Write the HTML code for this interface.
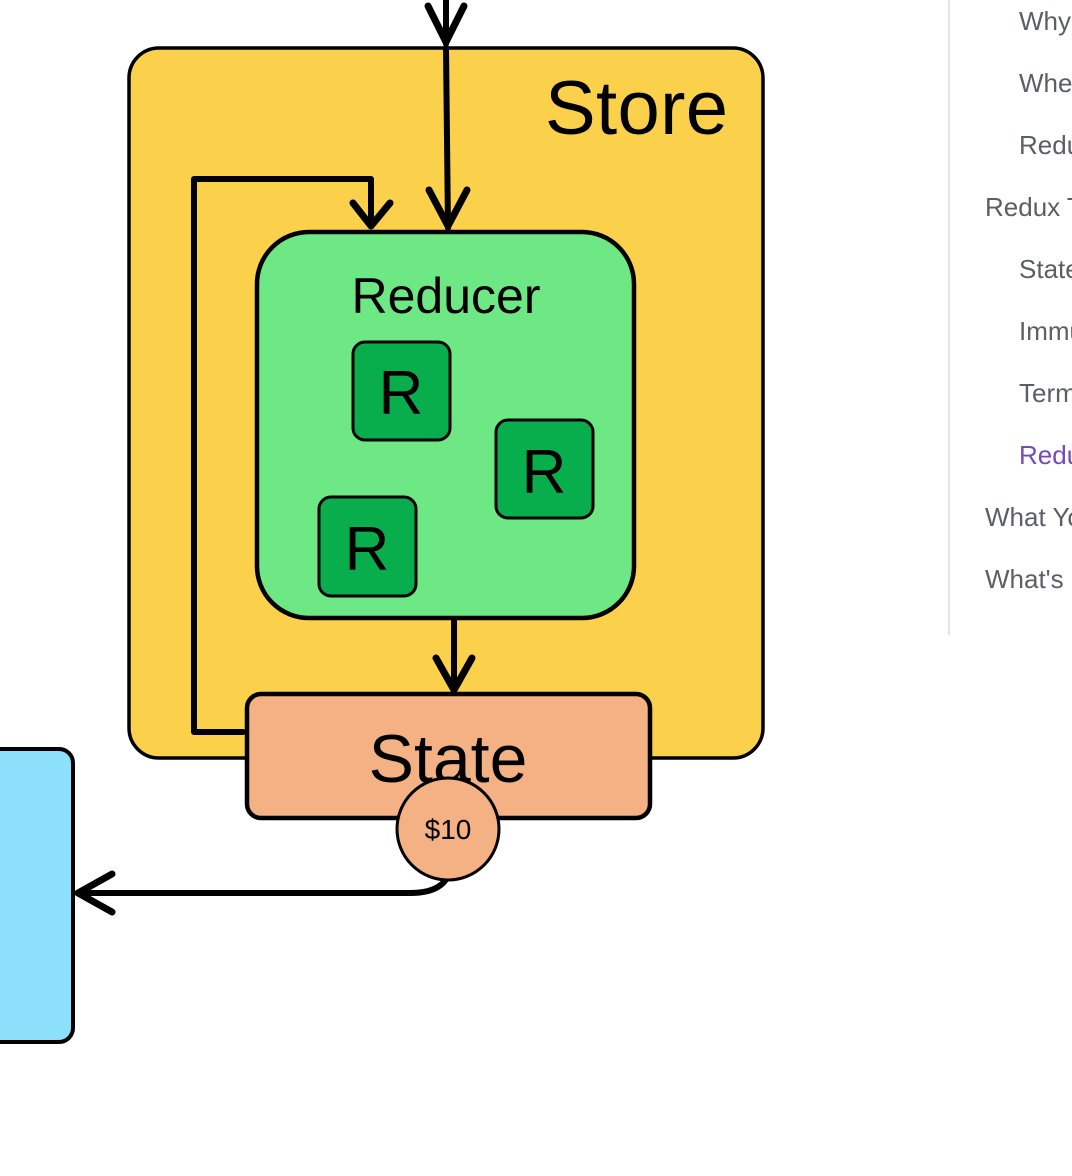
<!DOCTYPE html>
<html><head><meta charset="utf-8"><style>
html,body{margin:0;padding:0;width:1072px;height:1176px;overflow:hidden;background:#fff;}
svg{position:absolute;left:0;top:0;}
.side{position:absolute;left:948px;top:0;width:124px;height:635px;border-left:2px solid #e3e3e3;overflow:hidden;}
.side div{position:absolute;white-space:nowrap;font-family:"Liberation Sans",sans-serif;font-size:26px;color:#5a5f66;}
</style></head><body>
<svg width="1072" height="1176" viewBox="0 0 1072 1176">
<rect x="129" y="48" width="634" height="710" rx="30" fill="#fbd04b" stroke="#000" stroke-width="3.5"/>
<text x="545" y="134" font-family="Liberation Sans,sans-serif" font-size="76" textLength="183" fill="#000">Store</text>
<g fill="none" stroke="#000" stroke-width="6" stroke-linecap="round" stroke-linejoin="round">
<line x1="446" y1="0" x2="446" y2="44"/>
<line x1="446" y1="48" x2="448" y2="228"/>
<polyline points="243,732 194,732 194,179 371,179 371,226"/>
<line x1="454" y1="619" x2="454" y2="690"/>
<path d="M448,876 Q440,893 410,893 L78,893"/>
</g>
<g fill="none" stroke="#000" stroke-width="7" stroke-linecap="round" stroke-linejoin="round">
<polyline points="428,6 446,42 464,6"/>
<polyline points="429,190 448,226 467,190"/>
<polyline points="353,203 371,226 390,203"/>
<polyline points="436,658 454,690 472,658"/>
<polyline points="112,874 78,893 112,912"/>
</g>
<rect x="257" y="232" width="377" height="386" rx="52" fill="#6ee884" stroke="#000" stroke-width="4.5"/>
<text x="446" y="313" text-anchor="middle" font-family="Liberation Sans,sans-serif" font-size="50" fill="#000">Reducer</text>
<g font-family="Liberation Sans,sans-serif" font-size="62" text-anchor="middle">
<rect x="353" y="342" width="97" height="98" rx="12" fill="#08ae4c" stroke="#000" stroke-width="3"/>
<text x="401" y="414">R</text>
<rect x="496" y="420" width="97" height="98" rx="12" fill="#08ae4c" stroke="#000" stroke-width="3"/>
<text x="544" y="493">R</text>
<rect x="319" y="497" width="97" height="99" rx="12" fill="#08ae4c" stroke="#000" stroke-width="3"/>
<text x="367" y="570">R</text>
</g>
<rect x="247" y="694" width="403" height="124" rx="14" fill="#f4b183" stroke="#000" stroke-width="4.5"/>
<text x="448" y="782" text-anchor="middle" font-family="Liberation Sans,sans-serif" font-size="68" fill="#000">State</text>
<circle cx="448" cy="829" r="51" fill="#f4b183" stroke="#000" stroke-width="3"/>
<text x="448" y="839" text-anchor="middle" font-family="Liberation Sans,sans-serif" font-size="28" fill="#000">$10</text>
<rect x="-20" y="749" width="93" height="293" rx="14" fill="#8ce0fc" stroke="#000" stroke-width="4"/>
</svg>
<div class="side">
<div style="left:69px;top:6px">Why Redux?</div>
<div style="left:69px;top:68px">When Should I Use Redux?</div>
<div style="left:69px;top:130px">Redux Libraries and Tools</div>
<div style="left:35px;top:192px">Redux Terms and Concepts</div>
<div style="left:69px;top:254px">State Management</div>
<div style="left:69px;top:316px">Immutability</div>
<div style="left:69px;top:378px">Terminology</div>
<div style="left:69px;top:440px;color:#764abc">Redux Application Data Flow</div>
<div style="left:35px;top:502px">What You've Learned</div>
<div style="left:35px;top:564px">What's Next?</div>
</div>
</body></html>
